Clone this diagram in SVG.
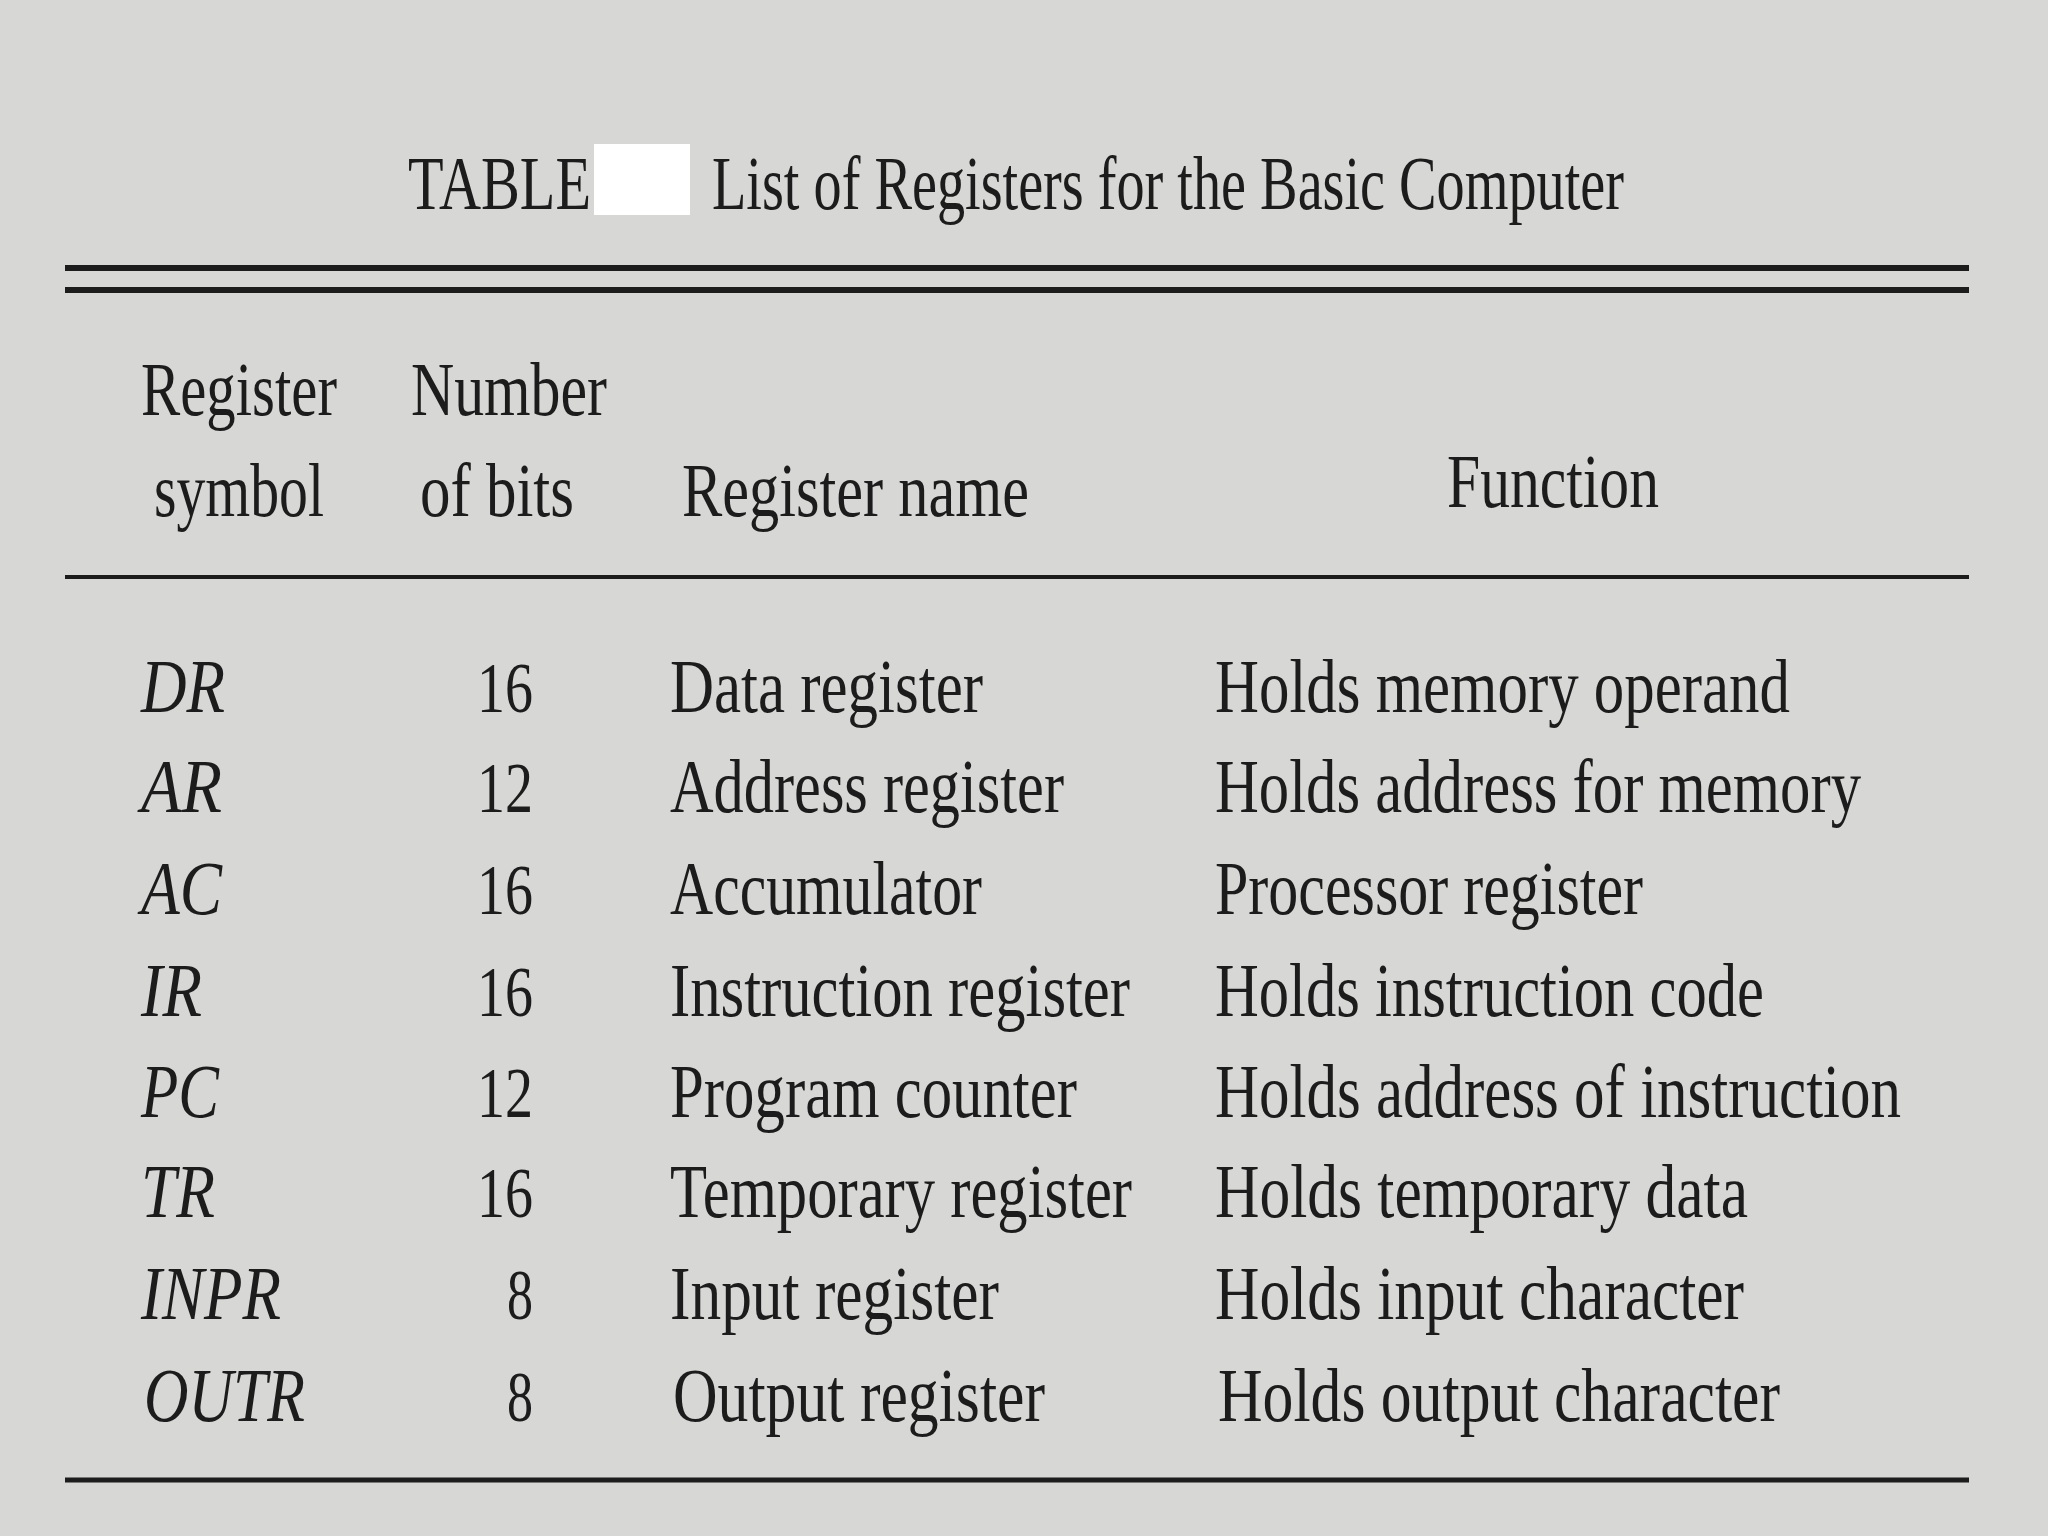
<svg xmlns="http://www.w3.org/2000/svg" width="2048" height="1536" viewBox="0 0 2048 1536">
<style>
text{font-family:"Liberation Serif","Times New Roman",serif;font-size:76px;fill:#1c1c1c}
.i{font-style:italic}
.n{font-size:72px}
line{stroke:#1c1c1c}
</style>
<rect width="2048" height="1536" fill="#d7d7d5"/>
<rect x="594" y="144" width="96" height="71" fill="#ffffff"/>
<text x="408" y="209" textLength="183" lengthAdjust="spacingAndGlyphs">TABLE</text>
<text x="712" y="209" textLength="912" lengthAdjust="spacingAndGlyphs">List of Registers for the Basic Computer</text>
<line x1="65" y1="268" x2="1969" y2="268" stroke-width="6"/>
<line x1="65" y1="290" x2="1969" y2="290" stroke-width="6"/>
<text x="141" y="415" textLength="196" lengthAdjust="spacingAndGlyphs">Register</text>
<text x="154" y="516" textLength="170" lengthAdjust="spacingAndGlyphs">symbol</text>
<text x="411" y="415" textLength="196" lengthAdjust="spacingAndGlyphs">Number</text>
<text x="420" y="516" textLength="154" lengthAdjust="spacingAndGlyphs">of bits</text>
<text x="682" y="516" textLength="347" lengthAdjust="spacingAndGlyphs">Register name</text>
<text x="1447" y="507" textLength="212" lengthAdjust="spacingAndGlyphs">Function</text>
<line x1="65" y1="577" x2="1969" y2="577" stroke-width="4"/>
<text class="i" x="141" y="712" textLength="84" lengthAdjust="spacingAndGlyphs">DR</text>
<text class="i" x="141" y="812" textLength="81" lengthAdjust="spacingAndGlyphs">AR</text>
<text class="i" x="141" y="914" textLength="81" lengthAdjust="spacingAndGlyphs">AC</text>
<text class="i" x="141" y="1016" textLength="61" lengthAdjust="spacingAndGlyphs">IR</text>
<text class="i" x="141" y="1117" textLength="78" lengthAdjust="spacingAndGlyphs">PC</text>
<text class="i" x="141" y="1217" textLength="74" lengthAdjust="spacingAndGlyphs">TR</text>
<text class="i" x="141" y="1319" textLength="140" lengthAdjust="spacingAndGlyphs">INPR</text>
<text class="i" x="144" y="1421" textLength="161" lengthAdjust="spacingAndGlyphs">OUTR</text>
<text class="n" x="477" y="712" textLength="56" lengthAdjust="spacingAndGlyphs">16</text>
<text class="n" x="477" y="812" textLength="56" lengthAdjust="spacingAndGlyphs">12</text>
<text class="n" x="477" y="914" textLength="56" lengthAdjust="spacingAndGlyphs">16</text>
<text class="n" x="477" y="1016" textLength="56" lengthAdjust="spacingAndGlyphs">16</text>
<text class="n" x="477" y="1117" textLength="56" lengthAdjust="spacingAndGlyphs">12</text>
<text class="n" x="477" y="1217" textLength="56" lengthAdjust="spacingAndGlyphs">16</text>
<text class="n" x="507" y="1319" textLength="26" lengthAdjust="spacingAndGlyphs">8</text>
<text class="n" x="507" y="1421" textLength="26" lengthAdjust="spacingAndGlyphs">8</text>
<text x="670" y="712" textLength="313" lengthAdjust="spacingAndGlyphs">Data register</text>
<text x="670" y="812" textLength="394" lengthAdjust="spacingAndGlyphs">Address register</text>
<text x="670" y="914" textLength="312" lengthAdjust="spacingAndGlyphs">Accumulator</text>
<text x="670" y="1016" textLength="460" lengthAdjust="spacingAndGlyphs">Instruction register</text>
<text x="670" y="1117" textLength="407" lengthAdjust="spacingAndGlyphs">Program counter</text>
<text x="670" y="1217" textLength="462" lengthAdjust="spacingAndGlyphs">Temporary register</text>
<text x="670" y="1319" textLength="329" lengthAdjust="spacingAndGlyphs">Input register</text>
<text x="673" y="1421" textLength="372" lengthAdjust="spacingAndGlyphs">Output register</text>
<text x="1215" y="712" textLength="575" lengthAdjust="spacingAndGlyphs">Holds memory operand</text>
<text x="1215" y="812" textLength="646" lengthAdjust="spacingAndGlyphs">Holds address for memory</text>
<text x="1215" y="914" textLength="428" lengthAdjust="spacingAndGlyphs">Processor register</text>
<text x="1215" y="1016" textLength="549" lengthAdjust="spacingAndGlyphs">Holds instruction code</text>
<text x="1215" y="1117" textLength="686" lengthAdjust="spacingAndGlyphs">Holds address of instruction</text>
<text x="1215" y="1217" textLength="533" lengthAdjust="spacingAndGlyphs">Holds temporary data</text>
<text x="1215" y="1319" textLength="529" lengthAdjust="spacingAndGlyphs">Holds input character</text>
<text x="1218" y="1421" textLength="562" lengthAdjust="spacingAndGlyphs">Holds output character</text>
<line x1="65" y1="1480" x2="1969" y2="1480" stroke-width="5"/>
</svg>
